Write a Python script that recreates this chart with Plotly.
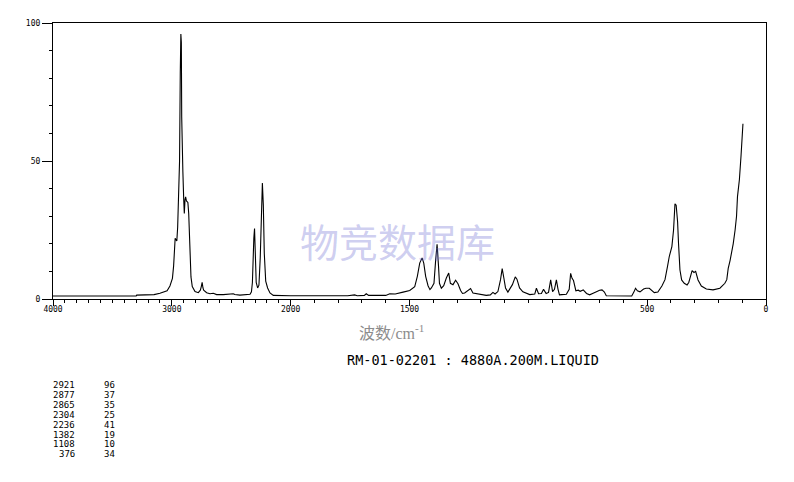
import plotly.graph_objects as go

# ---- data (wavenumber cm-1, relative intensity) ----
wavenumber = [4000, 3500, 3300, 3296, 3200, 3150, 3100, 3060, 3040, 3016, 2995, 2985, 2978, 2972,
              2965, 2958, 2951, 2942, 2935, 2929, 2924, 2920, 2917, 2912, 2907, 2900, 2895, 2889,
              2884, 2877, 2870, 2865, 2858, 2852, 2847, 2839, 2828, 2815, 2805, 2777, 2760, 2752,
              2745, 2738, 2732, 2707, 2679, 2651, 2623, 2567, 2500, 2483, 2470, 2427, 2342, 2330,
              2322, 2315, 2310, 2304, 2298, 2290, 2278, 2267, 2256, 2247, 2238, 2230, 2222, 2210,
              2194, 2174, 2146, 2000, 1760, 1731, 1720, 1690, 1682, 1672, 1600, 1583, 1560, 1527,
              1499, 1478, 1467, 1457, 1447, 1440, 1432, 1422, 1414, 1408, 1397, 1390, 1384, 1378,
              1374, 1366, 1356, 1345, 1335, 1328, 1317, 1306, 1296, 1285, 1277, 1268, 1243, 1233,
              1205, 1177, 1160, 1149, 1140, 1128, 1117, 1110, 1103, 1096, 1086, 1082, 1067, 1055,
              1048, 1037, 1023, 994, 973, 966, 957, 945, 936, 925, 915, 906, 898, 890, 882, 875,
              869, 860, 840, 828, 822, 816, 810, 800, 790, 782, 769, 755, 742, 725, 714, 700, 690,
              680, 672, 620, 565, 556, 549, 541, 530, 515, 505, 491, 480, 470, 455, 438, 425, 421,
              414, 407, 396, 389, 383, 378, 372, 368, 362, 355, 344, 332, 325, 318, 311, 303, 296,
              286, 272, 251, 223, 194, 173, 165, 159, 151, 145, 138, 130, 124, 120, 112, 105, 97]
intensity = [1.1, 1.1, 1.1, 1.4, 1.5, 1.6, 2.1, 2.6, 3.0, 4.7, 7.5, 12, 18, 22,
             21.5, 21, 26, 36, 50, 82, 96, 93, 66, 52, 46, 36, 31, 36,
             37, 35.5, 35, 35, 31, 24, 16.5, 8, 4.5, 3.2, 2.7, 2.3, 3.2, 4.5,
             6, 4, 3.2, 2.3, 1.9, 2.1, 1.6, 1.6, 1.7, 1.9, 1.6, 1.4, 1.7, 2.6,
             6, 20, 22, 25.5, 15, 6, 4, 5, 15, 29, 42, 34, 16.5, 6.5,
             4, 2.2, 1.3, 1.2, 1.2, 1.5, 1.2, 1.3, 1.9, 1.3, 1.3, 1.9, 1.8, 2.5,
             3.1, 4.5, 8.2, 13, 14.9, 13, 8.2, 4.8, 3.4, 4, 5.7, 14, 19.8, 12,
             5.7, 3.9, 4.8, 7.6, 9.4, 5.7, 5.2, 6.8, 5.5, 3.1, 2.0, 2.2, 3.8, 2.2,
             1.8, 1.3, 1.5, 2.4, 1.8, 2.7, 7, 11, 7.6, 4, 2.5, 3.0, 5.2, 8,
             7.2, 4, 2.6, 1.6, 1.8, 3.9, 1.9, 2.0, 3.5, 2.0, 2.4, 6.9, 2.7, 3.5, 6.9, 3.5,
             1.5, 1.6, 1.7, 3.5, 9.3, 7.5, 6.7, 3.0, 3.2, 2.8, 3.3, 2.0, 1.5, 2.2, 2.7, 3.2, 3.3,
             2.5, 1.2, 1.1, 1.1, 2.5, 3.9, 3.0, 2.6, 3.6, 3.9, 3.9, 3.0, 2.3, 2.5, 4.7, 7, 9.3,
             12, 15.4, 19, 25, 34.5, 34, 28, 20, 10.5, 6.9, 5.7, 5.1, 6.0, 8.1, 10.3, 9.6, 10,
             6.9, 4.7, 3.6, 3.3, 3.9, 5.7, 7, 11.1, 14, 16.6, 20, 25, 30, 37.1, 43.2, 52, 63.5]

x_tick_wn = [4000, 3000, 2000, 1500, 500, 0]
x_tick_labels = ["4000", "3000", "2000", "1500", "500", "0"]
x_minor_wn = list(range(0, 4001, 100))
y_tick_vals = [0, 50, 100]
y_tick_labels = ["0", "50", "100"]
y_minor_vals = list(range(0, 101, 10))

peak_wn = ["2921", "2877", "2865", "2304", "2236", "1382", "1108", "376"]
peak_int = ["96", "37", "35", "25", "41", "19", "10", "34"]

title_text = "RM-01-02201 : 4880A.200M.LIQUID"
axis_title = "波数/cm<sup>-1</sup>"
watermark = "物竞数据库"


def to_axis(wn):
    # split-scale wavenumber axis: region above 2000 cm-1 is compressed 2x
    return wn if wn <= 2000 else 2000 + (wn - 2000) / 2.0


# page has an 8px body margin; target plot area on the page: x 53..766, y 23..299
OFF = 8
W, H = 794, 482
L, T = 53 - OFF, 23 - OFF
R = W - (766 - OFF)
B = H - (299 - OFF)
PW, PH = W - L - R, H - T - B


def px_x(px):
    return (px - OFF - L) / PW


def px_y(py):
    return (H - B - (py - OFF)) / PH


fig = go.Figure()
fig.add_trace(go.Scatter(
    x=[to_axis(w) for w in wavenumber], y=intensity, mode="lines",
    line=dict(color="black", width=1.1), hoverinfo="skip", showlegend=False))

axis_font = dict(family="DejaVu Sans Mono", size=8, color="black")
fig.update_layout(
    width=W, height=H, margin=dict(l=L, r=R, t=T, b=B),
    paper_bgcolor="white", plot_bgcolor="white", showlegend=False,
    xaxis=dict(range=[to_axis(4000), 0], tickmode="array",
               tickvals=[to_axis(w) for w in x_tick_wn], ticktext=x_tick_labels,
               ticks="outside", ticklen=6, tickwidth=1, tickcolor="black",
               ticklabelstandoff=-4,
               showline=True, linecolor="black", linewidth=1.2, mirror=True,
               showgrid=False, zeroline=False, tickfont=axis_font,
               minor=dict(tickmode="array", tickvals=[to_axis(w) for w in x_minor_wn],
                          ticks="outside", ticklen=3, tickwidth=1, tickcolor="black",
                          showgrid=False)),
    yaxis=dict(range=[0, 100], tickmode="array", tickvals=y_tick_vals, ticktext=y_tick_labels,
               ticks="outside", ticklen=10, tickwidth=1, tickcolor="black",
               showline=True, linecolor="black", linewidth=1.2, mirror=True,
               showgrid=False, zeroline=False, tickfont=axis_font,
               minor=dict(tickmode="array", tickvals=y_minor_vals, ticks="outside",
                          ticklen=3, tickwidth=1, tickcolor="black", showgrid=False)),
)

ann = []
ann.append(dict(text=watermark, x=px_x(397), y=px_y(240), xref="paper", yref="paper",
                showarrow=False, xanchor="center", yanchor="middle",
                font=dict(family="Noto Sans CJK SC", size=39, color="rgba(118,118,213,0.36)")))
ann.append(dict(text=axis_title, x=px_x(391), y=px_y(332), xref="paper", yref="paper",
                showarrow=False, xanchor="center", yanchor="middle",
                font=dict(family="Liberation Serif, Noto Sans CJK SC", size=16, color="#8c8c8c")))
ann.append(dict(text=title_text, x=px_x(345), y=px_y(360), xref="paper", yref="paper",
                showarrow=False, xanchor="left", yanchor="middle",
                font=dict(family="DejaVu Sans Mono", size=13.5, color="black")))
row_y = [385, 395, 405, 415, 425, 434.7, 444.4, 454]
for i, (pw, pi) in enumerate(zip(peak_wn, peak_int)):
    ann.append(dict(text=pw, x=px_x(76), y=px_y(row_y[i]), xref="paper", yref="paper",
                    showarrow=False, xanchor="right", yanchor="middle", borderpad=0,
                    font=dict(family="DejaVu Sans Mono", size=9, color="black")))
    ann.append(dict(text=pi, x=px_x(103), y=px_y(row_y[i]), xref="paper", yref="paper",
                    showarrow=False, xanchor="left", yanchor="middle", borderpad=0,
                    font=dict(family="DejaVu Sans Mono", size=9, color="black")))
fig.update_layout(annotations=ann)

fig.write_html("out.html")
